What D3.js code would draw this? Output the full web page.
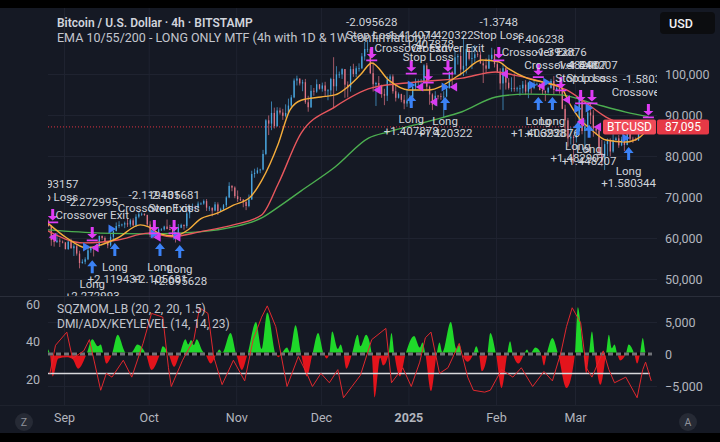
<!DOCTYPE html>
<html>
<head>
<meta charset="utf-8">
<script src="https://cdn.jsdelivr.net/npm/d3@7"></script>
<style>
  html, body { margin: 0; padding: 0; background: #000; }
  svg { display: block; font-family: Roboto, "Noto Sans", sans-serif; }
</style>
</head>
<body>
<div id="chart"></div>
<script>

const svgWidth = 720;
const svgHeight = 442;

// daily BTC candles in thousands of USD, first day 2024-08-26
const firstOpen = 64.2;

const closeAug = [62.9, 59.5, 59.0, 59.4, 59.1, 58.9];
const highAug  = [64.5, 63.2, 60.2, 61.2, 59.9, 59.4];
const lowAug   = [62.8, 58.1, 57.9, 58.8, 57.8, 58.7];

const closeSep = [57.3, 59.1, 57.5, 58.0, 56.2, 53.9, 54.2, 54.8, 57.0, 57.6, 57.3, 58.1, 60.5, 60.0, 59.2,
                  58.2, 60.3, 61.7, 62.9, 63.2, 63.3, 63.6, 63.3, 64.3, 63.1, 65.2, 65.8, 65.9, 65.6, 63.3];
const highSep  = [59.0, 59.4, 59.8, 58.5, 58.3, 56.9, 54.8, 55.3, 58.1, 58.0, 57.9, 58.6, 60.6, 60.6, 60.4,
                  59.2, 61.3, 61.8, 63.8, 64.1, 63.5, 64.0, 64.8, 64.7, 64.8, 65.8, 66.5, 66.2, 66.0, 65.7];
const lowSep   = [57.2, 57.1, 57.4, 55.6, 55.7, 52.6, 53.7, 53.6, 54.6, 56.4, 55.5, 57.3, 57.6, 59.5, 58.7,
                  57.5, 57.9, 59.2, 61.6, 62.4, 62.8, 62.4, 62.7, 62.7, 62.9, 62.7, 64.8, 65.4, 65.4, 62.9];

const closeOct = [60.8, 60.6, 60.8, 62.1, 62.1, 62.8, 62.2, 62.1, 60.6, 60.3, 62.5, 63.2, 62.9, 66.0, 67.0, 67.6,
                  67.4, 68.4, 68.4, 69.0, 67.4, 67.4, 66.7, 68.2, 66.6, 67.0, 68.0, 69.9, 72.7, 72.3, 70.2];
const highOct  = [64.1, 62.3, 61.5, 62.5, 62.4, 63.0, 64.5, 63.2, 62.5, 61.3, 63.4, 63.5, 63.3, 66.5, 67.9, 68.4,
                  67.9, 68.9, 68.7, 69.4, 69.5, 67.8, 67.4, 68.8, 68.7, 67.4, 68.3, 70.2, 73.6, 72.9, 72.6];
const lowOct   = [60.2, 59.9, 59.9, 60.5, 61.7, 61.8, 62.1, 61.9, 60.3, 58.9, 60.1, 62.4, 62.0, 62.4, 64.8, 66.8,
                  66.7, 67.1, 68.1, 68.1, 66.6, 66.6, 65.3, 66.5, 65.6, 66.5, 66.8, 67.5, 69.7, 71.4, 69.7];

const closeNov = [69.5, 69.4, 68.8, 67.8, 69.4, 75.6, 75.9, 76.5, 76.7, 80.5, 88.7, 87.9, 90.5, 87.3, 91.1,
                  90.6, 89.8, 90.5, 92.3, 94.3, 98.4, 98.9, 97.7, 98.0, 93.1, 91.9, 95.9, 95.7, 97.5, 96.4];
const highNov  = [71.6, 70.0, 69.4, 69.0, 70.6, 76.4, 76.9, 77.2, 76.9, 81.5, 89.0, 89.9, 93.3, 91.8, 91.9,
                  91.8, 91.5, 92.6, 94.0, 94.9, 98.9, 99.6, 98.9, 98.6, 98.8, 94.7, 97.3, 96.6, 98.7, 97.5];
const lowNov   = [68.8, 69.0, 67.5, 66.8, 67.5, 69.3, 74.7, 75.6, 75.8, 76.5, 80.2, 85.1, 86.3, 86.7, 87.1,
                  90.1, 88.8, 89.4, 90.4, 91.8, 94.1, 97.2, 97.2, 95.8, 92.7, 90.8, 91.7, 94.7, 95.4, 96.2];

const closeDec = [97.2, 95.9, 96.0, 98.8, 97.0, 99.9, 99.9, 101.2, 97.4, 96.7, 101.2, 100.0, 101.4, 101.4, 104.3, 106.1,
                  106.1, 100.2, 97.5, 97.8, 97.2, 95.1, 94.7, 98.7, 99.4, 95.8, 94.2, 95.1, 93.7, 92.8, 93.4];
const highDec  = [97.9, 98.1, 96.3, 99.1, 104.1, 101.9, 100.6, 101.4, 101.2, 98.2, 101.9, 102.5, 101.9, 102.6, 105.1, 107.8,
                  108.3, 106.5, 102.8, 98.1, 99.5, 97.4, 96.4, 99.4, 99.9, 99.9, 97.3, 95.5, 95.2, 94.9, 96.1];
const lowDec   = [95.7, 94.5, 93.6, 94.7, 91.6, 95.9, 99.0, 98.8, 94.2, 94.3, 95.7, 99.3, 99.2, 100.6, 101.2, 103.3,
                  105.3, 100.0, 95.7, 92.2, 96.4, 94.2, 92.4, 93.4, 97.6, 95.2, 93.3, 94.0, 93.1, 91.4, 92.0];

const closeJan = [94.4, 96.9, 98.1, 98.2, 98.3, 102.1, 96.9, 95.0, 92.5, 94.7, 94.6, 94.5, 94.5, 96.5, 100.5, 99.9,
                  104.1, 104.4, 101.1, 102.0, 106.1, 103.7, 103.9, 104.8, 104.7, 102.6, 102.1, 101.3, 103.7, 104.7, 102.4];
const highJan  = [94.9, 97.7, 98.9, 98.7, 98.8, 102.4, 102.7, 97.2, 95.3, 95.8, 94.9, 95.3, 95.8, 97.3, 100.6, 100.8,
                  105.8, 104.9, 106.3, 109.6, 107.1, 106.3, 106.8, 107.1, 105.3, 105.5, 103.2, 103.8, 104.7, 106.4, 106.0];
const lowJan   = [92.8, 94.2, 96.1, 97.2, 97.3, 97.9, 96.1, 92.5, 91.2, 92.2, 93.8, 93.7, 89.2, 94.3, 96.5, 97.3,
                  99.9, 102.3, 99.6, 99.5, 100.1, 103.3, 101.2, 102.8, 104.1, 102.5, 97.8, 100.3, 101.3, 103.3, 101.6];

const closeFeb = [100.6, 97.7, 101.4, 97.9, 96.6, 96.6, 96.5, 96.5, 96.5, 97.4, 95.7, 97.9, 96.6, 97.5,
                  97.6, 96.1, 95.8, 95.5, 96.6, 98.3, 96.1, 96.6, 96.3, 91.5, 88.7, 84.3, 84.7, 84.4];
const highFeb  = [102.8, 101.4, 102.5, 101.7, 99.0, 99.2, 100.1, 96.9, 97.3, 98.3, 98.5, 98.1, 98.0, 98.8,
                  97.9, 97.7, 97.0, 96.0, 96.9, 98.8, 99.5, 96.9, 96.7, 96.5, 92.5, 89.3, 87.0, 85.1];
const lowFeb   = [100.3, 96.2, 91.2, 96.2, 96.2, 95.7, 95.7, 95.7, 94.7, 95.3, 94.9, 94.1, 95.2, 96.3,
                  97.2, 96.0, 95.0, 93.4, 95.2, 96.4, 94.9, 95.8, 95.2, 91.4, 86.0, 82.3, 82.8, 78.2];

const closeMar = [86.0, 94.3, 86.1, 87.2, 90.6, 89.9, 86.7, 86.2, 80.7, 78.5, 82.9, 83.7, 81.1, 83.9,
                  84.3, 82.6, 84.0, 82.7, 86.8, 84.2, 84.0, 83.8, 86.1, 87.5, 87.4, 86.9, 87.095];
const highMar  = [86.6, 95.0, 94.4, 88.9, 91.0, 92.8, 91.2, 86.9, 86.5, 83.9, 83.6, 84.3, 84.3, 85.3,
                  84.7, 85.1, 84.7, 84.1, 87.4, 87.4, 84.7, 84.5, 86.2, 88.8, 88.5, 88.3, 87.8];
const lowMar   = [83.3, 85.1, 85.3, 81.4, 86.4, 87.8, 84.7, 85.2, 80.0, 77.5, 76.6, 80.0, 79.9, 80.8,
                  83.7, 82.0, 82.4, 81.2, 82.6, 83.7, 83.2, 83.7, 83.7, 85.6, 86.3, 85.9, 85.9];

// moving averages (date, thousands USD)
const emaFast = [["2024-08-26", 63.8], ["2024-09-02", 60.0], ["2024-09-09", 57.6], ["2024-09-14", 58.3],
  ["2024-09-20", 60.0], ["2024-09-28", 63.2], ["2024-10-01", 62.7], ["2024-10-05", 61.0], ["2024-10-10", 60.5],
  ["2024-10-15", 62.0], ["2024-10-19", 64.5], ["2024-10-25", 66.0], ["2024-10-31", 68.0], ["2024-11-06", 70.0],
  ["2024-11-10", 74.0], ["2024-11-16", 83.2], ["2024-11-20", 91.2], ["2024-11-24", 93.6], ["2024-12-01", 94.4],
  ["2024-12-06", 94.9], ["2024-12-15", 99.8], ["2024-12-19", 102.7], ["2024-12-25", 98.5], ["2025-01-01", 96.1],
  ["2025-01-08", 96.1], ["2025-01-20", 100.2], ["2025-01-27", 103.4], ["2025-02-02", 103.0], ["2025-02-05", 101.5],
  ["2025-02-12", 99.0], ["2025-02-19", 97.8], ["2025-02-24", 96.8], ["2025-02-27", 92.9], ["2025-03-03", 88.8],
  ["2025-03-07", 86.3], ["2025-03-12", 83.9], ["2025-03-19", 83.4], ["2025-03-24", 84.6], ["2025-03-27", 86.8]];

const emaMid = [["2024-08-26", 61.8], ["2024-09-08", 58.8], ["2024-09-20", 59.5], ["2024-10-01", 61.2],
  ["2024-10-09", 60.3], ["2024-10-19", 61.5], ["2024-10-31", 63.2], ["2024-11-10", 65.6], ["2024-11-16", 73.4],
  ["2024-11-24", 85.6], ["2024-12-06", 92.0], ["2024-12-19", 96.6], ["2025-01-03", 98.0], ["2025-01-20", 99.0],
  ["2025-02-01", 100.5], ["2025-02-07", 99.8], ["2025-02-18", 98.0], ["2025-02-26", 96.1], ["2025-03-05", 92.9],
  ["2025-03-12", 89.5], ["2025-03-19", 87.6], ["2025-03-27", 86.2]];

const emaSlow = [["2024-08-26", 62.0], ["2024-09-14", 61.2], ["2024-10-01", 61.0], ["2024-10-19", 61.5],
  ["2024-10-31", 62.7], ["2024-11-10", 64.9], ["2024-11-16", 67.6], ["2024-11-24", 71.5], ["2024-12-06", 77.3],
  ["2024-12-18", 84.4], ["2024-12-25", 85.9], ["2025-01-10", 88.8], ["2025-01-20", 90.8], ["2025-02-01", 94.4],
  ["2025-02-12", 95.1], ["2025-02-24", 94.9], ["2025-03-07", 92.9], ["2025-03-19", 90.7], ["2025-03-27", 89.6]];

// strategy orders: date, price (k), label, quantity
const exitOrders = [["2024-08-28", 63.9, "Stop Loss", "-2.393157"], ["2024-09-11", 59.5, "Crossover Exit", "-2.272995"],
  ["2024-10-03", 61.2, "Crossover Exit", "-2.119431"], ["2024-10-10", 61.2, "Stop Loss", "-2.105681"],
  ["2024-12-19", 103.4, "Stop Loss", "-2.095628"], ["2025-01-02", 100.2, "Crossover Exit", "-1.414074"],
  ["2025-01-08", 98.0, "Stop Loss", "-1.407878"], ["2025-01-15", 100.2, "Crossover Exit", "-1.420322"],
  ["2025-02-02", 103.4, "Stop Loss", "-1.3748"], ["2025-02-16", 99.3, "Crossover Exit", "-1.406238"],
  ["2025-02-24", 96.1, "Crossover Exit", "-1.392876"], ["2025-03-03", 92.9, "Stop Loss", "-1.482907"],
  ["2025-03-07", 92.9, "Stop Loss", "-1.448207"], ["2025-03-27", 89.5, "Crossover Exit", "-1.580344"]];

const entryOrders = [["2024-09-11", 54.6, "Long", "+2.272993"], ["2024-09-19", 58.8, "Long", "+2.119431"],
  ["2024-10-05", 58.8, "Long", "+2.105681"], ["2024-10-12", 58.3, "Long", "+2.095628"],
  ["2025-01-02", 94.9, "Long", "+1.407878"], ["2025-01-14", 94.4, "Long", "+1.420322"],
  ["2025-02-16", 94.4, "Long", "+1.406238"], ["2025-02-21", 94.4, "Long", "+1.392876"],
  ["2025-03-02", 88.3, "Long", "+1.482907"], ["2025-03-06", 87.6, "Long", "+1.448207"],
  ["2025-03-20", 82.2, "Long", "+1.580344"]];

// signal triangles from the indicator (date, price k)
const buySignals = [["2024-09-09", 57.8], ["2024-09-18", 62.2], ["2024-10-03", 61.0], ["2024-10-11", 60.7],
  ["2025-01-02", 97.3], ["2025-01-14", 96.8], ["2025-02-14", 97.3], ["2025-02-19", 98.0],
  ["2025-03-02", 91.5], ["2025-03-06", 91.7], ["2025-03-19", 84.4]];
const sellSignals = [["2024-08-28", 60.2], ["2024-09-12", 57.6], ["2024-10-04", 60.2], ["2024-10-11", 60.2],
  ["2024-12-21", 96.1], ["2025-01-05", 96.8], ["2025-01-10", 93.2], ["2025-01-17", 96.8],
  ["2025-02-04", 100.0], ["2025-02-17", 97.1], ["2025-02-26", 93.7], ["2025-03-03", 88.3], ["2025-03-09", 87.1]];

// squeeze momentum histogram (date, value)
const momentum = [["2024-08-26", 900], ["2024-08-27", 0], ["2024-08-28", -3500], ["2024-08-30", -700],
  ["2024-09-02", -500], ["2024-09-04", -800], ["2024-09-06", -2300], ["2024-09-09", 0], ["2024-09-11", 2300],
  ["2024-09-13", 1200], ["2024-09-14", 1500], ["2024-09-15", 0], ["2024-09-16", -1500], ["2024-09-18", 0],
  ["2024-09-20", 3000], ["2024-09-23", 200], ["2024-09-25", 300], ["2024-09-27", 1500], ["2024-09-30", 0],
  ["2024-10-02", -2500], ["2024-10-05", 0], ["2024-10-06", 1200], ["2024-10-08", 0], ["2024-10-10", -2000],
  ["2024-10-12", 0], ["2024-10-14", 2300], ["2024-10-15", 1500], ["2024-10-16", 2200], ["2024-10-17", 1400],
  ["2024-10-18", 2300], ["2024-10-20", 500], ["2024-10-21", 0], ["2024-10-23", -1500], ["2024-10-25", 0],
  ["2024-10-26", 700], ["2024-10-27", 200], ["2024-10-30", 3300], ["2024-11-01", 0], ["2024-11-03", -2500],
  ["2024-11-05", 0], ["2024-11-08", 5000], ["2024-11-10", 800], ["2024-11-12", 6500], ["2024-11-15", 0],
  ["2024-11-16", -500], ["2024-11-17", 0], ["2024-11-19", 1000], ["2024-11-20", 300], ["2024-11-22", 4500],
  ["2024-11-24", 0], ["2024-11-26", -3500], ["2024-11-28", 0], ["2024-11-30", 3300], ["2024-12-02", 0],
  ["2024-12-03", -700], ["2024-12-04", 0], ["2024-12-05", 3500], ["2024-12-07", 800], ["2024-12-08", 1500],
  ["2024-12-09", 0], ["2024-12-10", -2300], ["2024-12-12", 0], ["2024-12-14", 3000], ["2024-12-15", 1200],
  ["2024-12-17", 3000], ["2024-12-19", 0], ["2024-12-20", -6800], ["2024-12-22", -600], ["2024-12-23", -1800],
  ["2024-12-25", 0], ["2024-12-26", 3300], ["2024-12-27", 0], ["2024-12-29", -3500], ["2024-12-31", 0],
  ["2025-01-03", 2800], ["2025-01-05", 1000], ["2025-01-06", 1800], ["2025-01-07", 0], ["2025-01-09", -5800],
  ["2025-01-11", 0], ["2025-01-12", 1800], ["2025-01-13", 300], ["2025-01-16", 5000], ["2025-01-18", 800],
  ["2025-01-19", 1500], ["2025-01-20", 0], ["2025-01-22", -1200], ["2025-01-24", 0], ["2025-01-25", 1200],
  ["2025-01-26", 0], ["2025-01-27", -2700], ["2025-01-29", 0], ["2025-01-30", 3300], ["2025-02-01", 0],
  ["2025-02-03", -5300], ["2025-02-05", 0], ["2025-02-06", 2000], ["2025-02-07", 0], ["2025-02-09", -1500],
  ["2025-02-11", 0], ["2025-02-12", 700], ["2025-02-13", 0], ["2025-02-15", 1000], ["2025-02-17", 0],
  ["2025-02-18", -1800], ["2025-02-19", 0], ["2025-02-21", 2500], ["2025-02-23", 0], ["2025-02-26", -5300],
  ["2025-03-01", 0], ["2025-03-02", 7300], ["2025-03-04", 0], ["2025-03-05", -3000], ["2025-03-06", 0],
  ["2025-03-07", 3500], ["2025-03-08", 0], ["2025-03-10", -4800], ["2025-03-12", 0], ["2025-03-13", 3000],
  ["2025-03-14", 900], ["2025-03-15", 1500], ["2025-03-16", 0], ["2025-03-17", -1000], ["2025-03-19", 0],
  ["2025-03-20", 1500], ["2025-03-22", 0], ["2025-03-23", -1500], ["2025-03-24", 0], ["2025-03-25", 2500],
  ["2025-03-26", 200], ["2025-03-27", -300]];

// ADX line (date, value)
const adx = [["2024-08-27", 23], ["2024-08-29", 38], ["2024-09-02", 45], ["2024-09-04", 31], ["2024-09-08", 35],
  ["2024-09-10", 41], ["2024-09-14", 14], ["2024-09-16", 23], ["2024-09-18", 21], ["2024-09-22", 30],
  ["2024-09-25", 21], ["2024-09-29", 39], ["2024-10-02", 55], ["2024-10-06", 53], ["2024-10-08", 26],
  ["2024-10-09", 16], ["2024-10-13", 30], ["2024-10-17", 41], ["2024-10-19", 58], ["2024-10-22", 55],
  ["2024-10-24", 32], ["2024-10-27", 17], ["2024-10-31", 30], ["2024-11-04", 19], ["2024-11-07", 41],
  ["2024-11-10", 53], ["2024-11-12", 59], ["2024-11-15", 48], ["2024-11-19", 16], ["2024-11-23", 32],
  ["2024-11-26", 23], ["2024-11-28", 16], ["2024-12-01", 23], ["2024-12-04", 18], ["2024-12-07", 25],
  ["2024-12-09", 10], ["2024-12-12", 16], ["2024-12-15", 22], ["2024-12-19", 41], ["2024-12-24", 47],
  ["2024-12-26", 18], ["2024-12-30", 26], ["2025-01-02", 16], ["2025-01-05", 29], ["2025-01-07", 42],
  ["2025-01-09", 45], ["2025-01-12", 23], ["2025-01-15", 26], ["2025-01-19", 39], ["2025-01-22", 21],
  ["2025-01-24", 14], ["2025-01-28", 13], ["2025-01-30", 14], ["2025-02-03", 25], ["2025-02-07", 21],
  ["2025-02-10", 26], ["2025-02-14", 16], ["2025-02-18", 24], ["2025-02-21", 19], ["2025-02-24", 34],
  ["2025-02-26", 48], ["2025-02-28", 58], ["2025-03-03", 50], ["2025-03-05", 26], ["2025-03-07", 21],
  ["2025-03-11", 35], ["2025-03-13", 25], ["2025-03-15", 18], ["2025-03-19", 21], ["2025-03-23", 10],
  ["2025-03-25", 25], ["2025-03-26", 29], ["2025-03-28", 19]];

const keyLevel = 23;

const monthTicks = ["2024-09-01", "2024-10-01", "2024-11-01", "2024-12-01", "2025-01-01", "2025-02-01", "2025-03-01"];
const monthLabels = ["Sep", "Oct", "Nov", "Dec", "2025", "Feb", "Mar"];
const priceTicks = [50, 60, 70, 80, 90, 100];
const momTicks = [5000, 0, -5000];
const adxTicks = [20, 40, 60];


const parse = d3.timeParse("%Y-%m-%d");

const closes = [].concat(closeAug, closeSep, closeOct, closeNov, closeDec, closeJan, closeFeb, closeMar);
const highs = [].concat(highAug, highSep, highOct, highNov, highDec, highJan, highFeb, highMar);
const lows = [].concat(lowAug, lowSep, lowOct, lowNov, lowDec, lowJan, lowFeb, lowMar);
const days = d3.timeDay.range(parse("2024-08-26"), parse("2025-03-28"));

const candles = closes.map((c, i) => ({
  date: d3.timeHour.offset(days[i], 12),
  open: i ? closes[i - 1] : firstOpen,
  high: highs[i],
  low: lows[i],
  close: c
}));
const lastClose = closes[closes.length - 1];

// layout
const main = { left: 48, right: 657, top: 8, bottom: 296 };
const sub = { top: 297, bottom: 405 };

const svg = d3.select("#chart")
  .append("svg")
  .attr("width", svgWidth)
  .attr("height", svgHeight);

svg.append("rect").attr("width", svgWidth).attr("height", svgHeight).attr("fill", "#000");
svg.append("rect")
  .attr("x", 0).attr("y", 8)
  .attr("width", svgWidth).attr("height", 425)
  .attr("fill", "#151924");

const xScale = d3.scaleTime()
  .domain([parse("2024-09-01"), parse("2025-03-01")])
  .range([64, 575]);
const yPrice = d3.scaleLinear().domain([50, 100]).range([279, 74]);
const yMom = d3.scaleLinear().domain([-5000, 5000]).range([386, 322]);
const yAdx = d3.scaleLinear().domain([20, 60]).range([379, 304]);

const defs = svg.append("defs");
defs.append("clipPath").attr("id", "clipMain").append("rect")
  .attr("x", main.left).attr("y", main.top)
  .attr("width", main.right - main.left).attr("height", main.bottom - main.top);
defs.append("clipPath").attr("id", "clipSub").append("rect")
  .attr("x", main.left).attr("y", sub.top)
  .attr("width", main.right - main.left).attr("height", sub.bottom - sub.top);
defs.append("clipPath").attr("id", "clipUp").append("rect")
  .attr("x", main.left).attr("y", sub.top)
  .attr("width", main.right - main.left).attr("height", yMom(0) - sub.top);
defs.append("clipPath").attr("id", "clipDown").append("rect")
  .attr("x", main.left).attr("y", yMom(0))
  .attr("width", main.right - main.left).attr("height", sub.bottom - yMom(0));

// grid
const monthDates = monthTicks.map(parse);
svg.append("g")
  .attr("class", "grid")
  .attr("transform", `translate(0, ${sub.bottom})`)
  .call(d3.axisBottom(xScale).tickValues(monthDates).tickSize(-(sub.bottom - main.top)).tickFormat(""));
svg.append("g")
  .attr("class", "grid")
  .attr("transform", `translate(${main.right}, 0)`)
  .call(d3.axisRight(yPrice).tickValues(priceTicks).tickSize(-(main.right - main.left)).tickFormat(""));
svg.append("g")
  .attr("class", "grid")
  .attr("transform", `translate(${main.right}, 0)`)
  .call(d3.axisRight(yMom).tickValues([5000, -5000]).tickSize(-(main.right - main.left)).tickFormat(""));
svg.selectAll(".grid .domain").remove();
svg.selectAll(".grid line").attr("stroke", "#1f2330").attr("stroke-width", 1);

// pane borders
svg.append("line").attr("x1", 0).attr("x2", svgWidth).attr("y1", main.bottom + 0.5).attr("y2", main.bottom + 0.5)
  .attr("stroke", "#2a2e3a");
svg.append("line").attr("x1", 0).attr("x2", svgWidth).attr("y1", sub.bottom + 0.5).attr("y2", sub.bottom + 0.5)
  .attr("stroke", "#1e222d");

// ---------- main pane ----------
const plot = svg.append("g").attr("clip-path", "url(#clipMain)");

// last price dotted line
plot.append("line")
  .attr("x1", main.left).attr("x2", 603)
  .attr("y1", yPrice(lastClose)).attr("y2", yPrice(lastClose))
  .attr("stroke", "#f23645")
  .attr("stroke-dasharray", "1,2")
  .attr("opacity", 0.9);

// candles
const upColor = "#4aa8e2";
const downColor = "#e07484";
plot.append("g").selectAll("line")
  .data(candles)
  .join("line")
  .attr("x1", d => xScale(d.date)).attr("x2", d => xScale(d.date))
  .attr("y1", d => yPrice(d.high)).attr("y2", d => yPrice(d.low))
  .attr("stroke", d => d.close >= d.open ? upColor : downColor)
  .attr("stroke-width", 0.7);
plot.append("g").selectAll("rect")
  .data(candles)
  .join("rect")
  .attr("x", d => xScale(d.date) - 0.65)
  .attr("width", 1.3)
  .attr("y", d => yPrice(Math.max(d.open, d.close)))
  .attr("height", d => Math.max(0.8, Math.abs(yPrice(d.open) - yPrice(d.close))))
  .attr("fill", d => d.close >= d.open ? upColor : downColor);

// EMAs
const emaLine = d3.line()
  .x(d => xScale(parse(d[0])))
  .y(d => yPrice(d[1]))
  .curve(d3.curveMonotoneX);

[[emaSlow, "#4caf50"], [emaMid, "#e8575d"], [emaFast, "#f5ad3b"]].forEach(([series, color]) => {
  plot.append("path")
    .datum(series)
    .attr("d", emaLine)
    .attr("fill", "none")
    .attr("stroke", color)
    .attr("stroke-width", 1.4);
});

// signal triangles
const tri = plot.append("g");
tri.selectAll("path.buy")
  .data(buySignals)
  .join("path")
  .attr("transform", d => `translate(${xScale(parse(d[0]))}, ${yPrice(d[1])})`)
  .attr("d", "M-3.5,-4.5L4,0L-3.5,4.5Z")
  .attr("fill", "#3d7df5");
tri.selectAll("path.sell")
  .data(sellSignals)
  .join("path")
  .attr("transform", d => `translate(${xScale(parse(d[0]))}, ${yPrice(d[1])})`)
  .attr("d", "M3.5,-4.5L-4,0L3.5,4.5Z")
  .attr("fill", "#d63cf0");

// order arrows
const labelColor = "#d0d3da";
const orders = plot.append("g").attr("font-size", 11.5).attr("fill", labelColor).attr("text-anchor", "middle");

const exitG = orders.selectAll("g.exit")
  .data(exitOrders)
  .join("g")
  .attr("transform", d => `translate(${xScale(parse(d[0]))}, ${yPrice(d[1])})`);
exitG.append("path")
  .attr("d", "M-1.5,-13H1.5V-6H5L0,-1.5L-5,-6H-1.5Z M-5.5,-0.5H5.5V1.2H-5.5Z")
  .attr("fill", "#e03cf5");
exitG.append("text").attr("y", -21).text(d => d[2]);
exitG.append("text").attr("y", -34).text(d => d[3]);

const entryG = orders.selectAll("g.entry")
  .data(entryOrders)
  .join("g")
  .attr("transform", d => `translate(${xScale(parse(d[0]))}, ${yPrice(d[1])})`);
entryG.append("path")
  .attr("d", "M0,0L5,6H1.5V13H-1.5V6H-5Z")
  .attr("fill", "#3b82f6");
entryG.append("text").attr("y", 28).text(d => d[2]);
entryG.append("text").attr("y", 40).text(d => d[3]);

// price axis
const priceAxis = svg.append("g")
  .attr("transform", `translate(${main.right}, 0)`)
  .call(d3.axisRight(yPrice).tickValues(priceTicks).tickSize(0).tickPadding(8)
    .tickFormat(d => d3.format(",")(d * 1000)));

// last price tag
const tagY = yPrice(lastClose);
svg.append("rect").attr("x", 603).attr("y", tagY - 7.5).attr("width", 53).attr("height", 15)
  .attr("rx", 2).attr("fill", "#ef4a58");
svg.append("rect").attr("x", 657).attr("y", tagY - 7.5).attr("width", 52).attr("height", 15)
  .attr("rx", 2).attr("fill", "#e63946");
svg.append("text").attr("x", 629.5).attr("y", tagY + 4.2).attr("text-anchor", "middle")
  .attr("fill", "#fff").attr("font-size", 12).text("BTCUSD");
svg.append("text").attr("x", 683).attr("y", tagY + 4.2).attr("text-anchor", "middle")
  .attr("fill", "#fff").attr("font-size", 12).text(d3.format(",")(Math.round(lastClose * 1000)));

// ---------- indicator pane ----------
const subPlot = svg.append("g").attr("clip-path", "url(#clipSub)");

const momArea = d3.area()
  .x(d => xScale(parse(d[0])))
  .y0(yMom(0))
  .y1(d => yMom(d[1]))
  .curve(d3.curveMonotoneX);

subPlot.append("path").datum(momentum).attr("d", momArea)
  .attr("fill", "#1fd82a").attr("clip-path", "url(#clipUp)");
subPlot.append("path").datum(momentum).attr("d", momArea)
  .attr("fill", "#e3141c").attr("clip-path", "url(#clipDown)");

// squeeze dots on zero
subPlot.append("line")
  .attr("x1", main.left).attr("x2", 652)
  .attr("y1", yMom(0)).attr("y2", yMom(0))
  .attr("stroke", "#0b0b0b").attr("stroke-width", 3);
subPlot.append("line")
  .attr("x1", main.left).attr("x2", 652)
  .attr("y1", yMom(0)).attr("y2", yMom(0))
  .attr("stroke", "#8a8d95").attr("stroke-width", 3)
  .attr("stroke-dasharray", "5,3").attr("opacity", 0.8);

// key level
subPlot.append("line")
  .attr("x1", main.left).attr("x2", 650)
  .attr("y1", yAdx(keyLevel)).attr("y2", yAdx(keyLevel))
  .attr("stroke", "#d8d8dc").attr("stroke-width", 1.5);

// ADX
subPlot.append("path")
  .datum(adx)
  .attr("d", d3.line().x(d => xScale(parse(d[0]))).y(d => yAdx(d[1])))
  .attr("fill", "none")
  .attr("stroke", "#e0282e")
  .attr("stroke-width", 1);

const momAxis = svg.append("g")
  .attr("transform", `translate(${main.right}, 0)`)
  .call(d3.axisRight(yMom).tickValues(momTicks).tickSize(0).tickPadding(8)
    .tickFormat(d => d3.format(",")(d).replace("-", "\u2212")));
const adxAxis = svg.append("g")
  .attr("transform", `translate(${main.left}, 0)`)
  .call(d3.axisLeft(yAdx).tickValues(adxTicks).tickSize(0).tickPadding(8));

// time axis
const timeAxis = svg.append("g")
  .attr("transform", `translate(0, 413)`)
  .call(d3.axisBottom(xScale).tickValues(monthDates).tickSize(0).tickPadding(0)
    .tickFormat((d, i) => monthLabels[i]));
timeAxis.selectAll("text").filter((d, i) => monthLabels[i] === "2025").attr("font-weight", 700);

[priceAxis, momAxis, adxAxis, timeAxis].forEach(ax => {
  ax.select(".domain").remove();
  ax.selectAll("text")
    .attr("fill", "#b2b5be")
    .attr("font-size", 12.5)
    .attr("font-family", "Roboto, 'Noto Sans', sans-serif");
});

// ---------- legends ----------
svg.append("text").attr("x", 57).attr("y", 27)
  .attr("fill", "#d1d4dc").attr("font-size", 12).attr("font-weight", 600)
  .text("Bitcoin / U.S. Dollar \u00b7 4h \u00b7 BITSTAMP");
svg.append("text").attr("x", 57).attr("y", 42)
  .attr("fill", "#c3c6ce").attr("font-size", 12.5)
  .text("EMA 10/55/200 - LONG ONLY MTF (4h with 1D & 1W confirmation)");
svg.append("text").attr("x", 57).attr("y", 313)
  .attr("fill", "#c3c6ce").attr("font-size", 12)
  .text("SQZMOM_LB (20, 2, 20, 1.5)");
svg.append("text").attr("x", 57).attr("y", 328)
  .attr("fill", "#c3c6ce").attr("font-size", 12)
  .text("DMI/ADX/KEYLEVEL (14, 14, 23)");

// USD button
svg.append("rect").attr("x", 660).attr("y", 12).attr("width", 55).attr("height", 22)
  .attr("rx", 4).attr("fill", "#0c0d10");
svg.append("text").attr("x", 669).attr("y", 27.5)
  .attr("fill", "#f0f1f4").attr("font-size", 12.5).attr("font-weight", 500).text("USD");

// corner buttons
[[24, "Z"], [688, "A"]].forEach(([cx, letter]) => {
  svg.append("circle").attr("cx", cx).attr("cy", 422).attr("r", 9).attr("fill", "#262a35");
  svg.append("text").attr("x", cx).attr("y", 426).attr("text-anchor", "middle")
    .attr("fill", "#8f929b").attr("font-size", 10.5).text(letter);
});

</script>
</body>
</html>
